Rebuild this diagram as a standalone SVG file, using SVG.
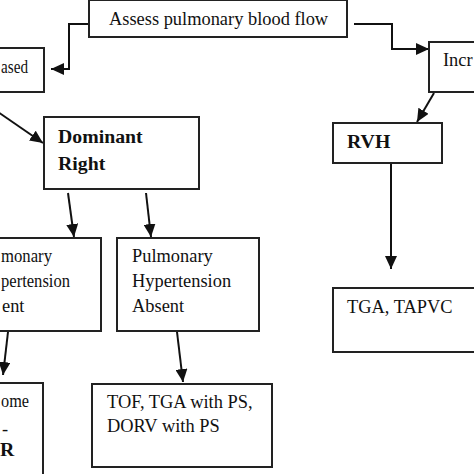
<svg xmlns="http://www.w3.org/2000/svg" width="474" height="474" viewBox="0 0 474 474">
<defs>
<marker id="ah" markerUnits="userSpaceOnUse" markerWidth="14" markerHeight="12" refX="13" refY="6" orient="auto">
<path d="M0,0 L13,6 L0,12 Z" fill="#111"/>
</marker>
<style>
.box{fill:#fff;stroke:#222;stroke-width:2}
.t{font-family:"Liberation Serif","Times New Roman",serif;font-size:18.4px;fill:#111}
.b{font-family:"Liberation Serif","Times New Roman",serif;font-size:19.8px;font-weight:bold;fill:#111}
.c{fill:none;stroke:#111;stroke-width:2}
</style>
</defs>
<rect width="474" height="474" fill="#fff"/>
<g id="connectors">
<polyline class="c" points="89,24 69,24 69,69 51,69" marker-end="url(#ah)"/>
<polyline class="c" points="354,24 392,24 392,49 429,49" marker-end="url(#ah)"/>
<line class="c" x1="434" y1="93" x2="417" y2="122" marker-end="url(#ah)"/>
<line class="c" x1="-2" y1="112" x2="43" y2="143" marker-end="url(#ah)"/>
<line class="c" x1="68" y1="193" x2="74" y2="237" marker-end="url(#ah)"/>
<line class="c" x1="146" y1="193" x2="151" y2="237" marker-end="url(#ah)"/>
<line class="c" x1="391" y1="163" x2="391" y2="269" marker-end="url(#ah)"/>
<line class="c" x1="8" y1="332" x2="3" y2="375" marker-end="url(#ah)"/>
<line class="c" x1="177" y1="332" x2="183" y2="382" marker-end="url(#ah)"/>
</g>
<g id="assess">
<rect class="box" x="89" y="0" width="258" height="37"/>
<text class="t" x="109" y="25">Assess pulmonary blood flow</text>
</g>
<g id="decreased">
<rect class="box" x="-10" y="48" width="54" height="44"/>
<text class="t" x="1" y="73" textLength="27" lengthAdjust="spacingAndGlyphs">ased</text>
</g>
<g id="increased">
<rect class="box" x="429" y="42" width="60" height="50"/>
<text class="t" x="443" y="66">Incr</text>
</g>
<g id="dominant-right">
<rect class="box" x="44" y="117" width="155" height="72"/>
<text class="b" x="58" y="143">Dominant</text>
<text class="b" x="58" y="170">Right</text>
</g>
<g id="rvh">
<rect class="box" x="333" y="123" width="109" height="40"/>
<text class="b" x="347" y="148">RVH</text>
</g>
<g id="ph-present">
<rect class="box" x="-10" y="238" width="111" height="93"/>
<text class="t" x="1" y="262" textLength="51" lengthAdjust="spacingAndGlyphs">monary</text>
<text class="t" x="1" y="287" textLength="69" lengthAdjust="spacingAndGlyphs">pertension</text>
<text class="t" x="2" y="312">ent</text>
</g>
<g id="ph-absent">
<rect class="box" x="117" y="238" width="142" height="93"/>
<text class="t" x="132" y="262">Pulmonary</text>
<text class="t" x="132" y="287">Hypertension</text>
<text class="t" x="132" y="312">Absent</text>
</g>
<g id="tga-tapvc">
<rect class="box" x="333" y="288" width="160" height="64"/>
<text class="t" x="347" y="313">TGA, TAPVC</text>
</g>
<g id="syndrome">
<rect class="box" x="-10" y="383" width="53" height="100"/>
<text class="t" x="1" y="407" textLength="28" lengthAdjust="spacingAndGlyphs">ome</text>
<text class="t" x="2" y="435">-</text>
<text class="b" x="0" y="456">R</text>
</g>
<g id="tof">
<rect class="box" x="92" y="384" width="180" height="83"/>
<text class="t" x="107" y="408">TOF, TGA with PS,</text>
<text class="t" x="107" y="432">DORV with PS</text>
</g>
</svg>
